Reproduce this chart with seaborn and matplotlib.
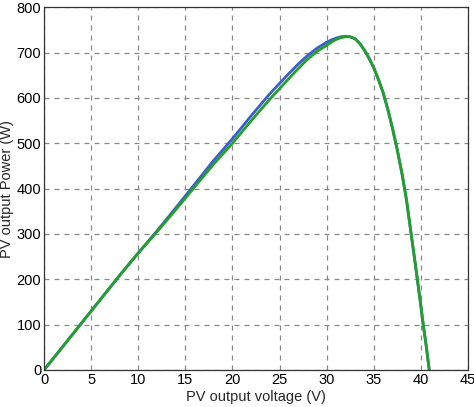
import matplotlib
matplotlib.use("Agg")
import matplotlib.pyplot as plt
import seaborn as sns
import pandas as pd

# PV curve (voltage V, power W)
volt = [0, 2, 4, 6, 8, 10, 12, 14, 16, 18, 20, 22, 24, 26, 27, 28, 29, 30, 30.5,
        31, 31.5, 32, 32.5, 33, 33.5, 34, 34.5, 35, 35.5, 36, 36.5, 37, 37.5, 38,
        38.5, 38.9, 39.3, 39.65, 40, 40.25, 40.6, 40.9]
power_blue = [0, 52, 104, 156, 208, 258, 307, 358, 410, 462, 510, 561, 610, 654,
              675, 694, 710, 723, 728, 732, 735, 736, 735, 731, 721, 706, 688,
              667, 641, 612, 575, 533, 486, 434, 373, 312, 252, 198, 143, 102, 50, 0]
power_green = [0, 52, 104, 156, 208, 258, 305, 354, 404, 454, 500, 550, 598, 643,
               665, 686, 703, 716, 723, 729, 733, 735, 735, 731, 721, 706, 688,
               667, 641, 612, 575, 533, 486, 434, 373, 312, 252, 198, 143, 102, 50, 0]

df = pd.DataFrame({
    "voltage": volt + volt,
    "power": power_blue + power_green,
    "series": ["blue"] * len(volt) + ["green"] * len(volt),
})

sns.set_theme(style="white")
plt.rcParams["font.family"] = ["Liberation Sans", "DejaVu Sans"]

fig, ax = plt.subplots(figsize=(4.74, 4.07), dpi=100)
plt.subplots_adjust(left=0.093, bottom=0.091, right=0.987, top=0.982)

sns.lineplot(data=df, x="voltage", y="power", hue="series",
             palette={"blue": "#3a5fcd", "green": "#22a02a"},
             linewidth=2, legend=False, ax=ax, sort=False)

ax.set_xlim(0, 45)
ax.set_ylim(0, 800)
ax.set_xticks(range(0, 46, 5))
ax.set_yticks(range(0, 801, 100))
ax.grid(True, color="#888888", linestyle=(0, (4, 4)), linewidth=0.9)
for s in ax.spines.values():
    s.set_color("#333333")
    s.set_linewidth(0.9)
ax.tick_params(direction="in", length=3, labelsize=10.5, colors="black", pad=2)
ax.set_xlabel("PV output voltage (V)", fontsize=10.5, labelpad=2)
ax.set_ylabel("PV output Power (W)", fontsize=10.5, labelpad=2)

plt.savefig("out.png", dpi=100)
